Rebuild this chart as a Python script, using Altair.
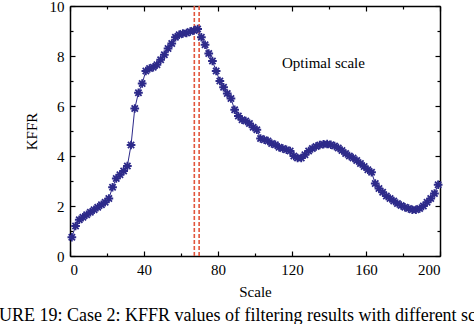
import altair as alt
import pandas as pd

scale_vals = list(range(1, 200, 2))
kffr_vals = [
    0.75, 1.2, 1.45, 1.55, 1.65, 1.75, 1.85, 1.95, 2.05, 2.15,
    2.3, 2.75, 3.1, 3.25, 3.4, 3.6, 4.44, 5.9, 6.53, 6.9,
    7.4, 7.5, 7.55, 7.65, 7.85, 8.05, 8.3, 8.5, 8.75, 8.85,
    8.9, 8.92, 8.98, 9.02, 9.08, 8.75, 8.45, 8.1, 7.8, 7.4,
    7.0, 6.75, 6.5, 6.3, 5.85, 5.6, 5.45, 5.4, 5.3, 5.15,
    5.05, 4.7, 4.65, 4.6, 4.5, 4.45, 4.35, 4.3, 4.25, 4.2,
    4.0, 3.92, 3.92, 4.05, 4.2, 4.3, 4.38, 4.44, 4.47, 4.48,
    4.45, 4.4, 4.32, 4.22, 4.1, 4.0, 3.92, 3.82, 3.7, 3.58,
    3.45, 3.35, 2.9, 2.7, 2.55, 2.4, 2.3, 2.2, 2.1, 2.02,
    1.95, 1.9, 1.85, 1.85, 1.9, 2.0, 2.15, 2.3, 2.5, 2.85,
]
optimal_lines = [67.2, 69.8]
x_ticks = list(range(0, 201, 20))
y_ticks = list(range(0, 11, 1))
annot_text = ["Optimal scale"]
annot_x = [137]
annot_y = [7.72]
caption = "FIGURE 19: Case 2: KFFR values of filtering results with different scales."

df = pd.DataFrame({"Scale": scale_vals, "KFFR": kffr_vals})
rules = pd.DataFrame({"s": optimal_lines})
annot = pd.DataFrame({"t": annot_text, "x": annot_x, "y": annot_y})
cap = pd.DataFrame({"t": [caption]})

FONT = "Liberation Serif"
BLUE = "#2d2a8a"
RED = "#e2553c"
ASTERISK = "M-1,0L1,0M0,-1L0,1M-0.72,-0.72L0.72,0.72M-0.72,0.72L0.72,-0.72"

xscale = alt.Scale(domain=[0, 200], nice=False, zero=False)
yscale = alt.Scale(domain=[0, 10], nice=False, zero=False)

tick_common = dict(
    tickSize=alt.ExprRef("-5"),
    tickColor="black",
    tickWidth=1.2,
    domainColor="black",
    domainWidth=1.5,
    grid=False,
    labelFont=FONT,
    labelFontSize=15,
    labelColor="black",
    titleFont=FONT,
    titleFontSize=15,
    titleFontWeight="normal",
    titleColor="black",
)

x_axis = alt.Axis(
    values=x_ticks,
    labelExpr="datum.value % 40 === 0 ? datum.label : ''",
    tickDash={"condition": {"test": "datum.value % 40 !== 0", "value": [3, 20]}, "value": []},
    labelPadding=11,
    titlePadding=7,
    title="Scale",
    orient="bottom",
    **tick_common,
)
y_axis = alt.Axis(
    values=y_ticks,
    labelExpr="datum.value % 2 === 0 ? datum.label : ''",
    tickDash={"condition": {"test": "datum.value % 2 !== 0", "value": [3, 20]}, "value": []},
    labelPadding=11,
    titlePadding=10,
    title="KFFR",
    orient="left",
    **tick_common,
)
x_top = alt.Axis(
    values=x_ticks,
    labels=False,
    title=None,
    tickDash={"condition": {"test": "datum.value % 40 !== 0", "value": [3, 20]}, "value": []},
    orient="top",
    **tick_common,
)
y_right = alt.Axis(
    values=y_ticks,
    labels=False,
    title=None,
    tickDash={"condition": {"test": "datum.value % 2 !== 0", "value": [3, 20]}, "value": []},
    orient="right",
    **tick_common,
)

base = alt.Chart(df)

line = base.mark_line(color=BLUE, strokeWidth=1).encode(
    x=alt.X("Scale:Q", scale=xscale, axis=x_axis),
    y=alt.Y("KFFR:Q", scale=yscale, axis=y_axis),
)
pts = base.mark_point(shape=ASTERISK, size=76, color=BLUE, strokeWidth=1.8, filled=False, opacity=1).encode(
    x=alt.X("Scale:Q", scale=xscale, axis=None),
    y=alt.Y("KFFR:Q", scale=yscale, axis=None),
)
frame = base.mark_point(opacity=0).encode(
    x=alt.X("Scale:Q", scale=xscale, axis=x_top),
    y=alt.Y("KFFR:Q", scale=yscale, axis=y_right),
)
vlines = alt.Chart(rules).mark_rule(color=RED, strokeWidth=1.6, strokeDash=[4, 2]).encode(
    x=alt.X("s:Q", scale=xscale, axis=None),
)
text = alt.Chart(annot).mark_text(font=FONT, fontSize=15, color="black").encode(
    x=alt.X("x:Q", scale=xscale, axis=None),
    y=alt.Y("y:Q", scale=yscale, axis=None),
    text="t:N",
)
captext = alt.Chart(cap).mark_text(
    font=FONT, fontSize=18, color="black", align="left", baseline="top"
).encode(
    x=alt.value(-100),
    y=alt.value(301),
    text="t:N",
)

chart = alt.layer(vlines, line, pts, frame, text, captext).properties(
    width=370,
    height=250,
    autosize=alt.AutoSizeParams(type="none"),
    padding={"left": 70, "top": 6, "right": 34, "bottom": 68},
).configure_view(stroke=None).configure(background="white")

chart.save("out.html", embed_options={"renderer": "svg", "actions": False})
